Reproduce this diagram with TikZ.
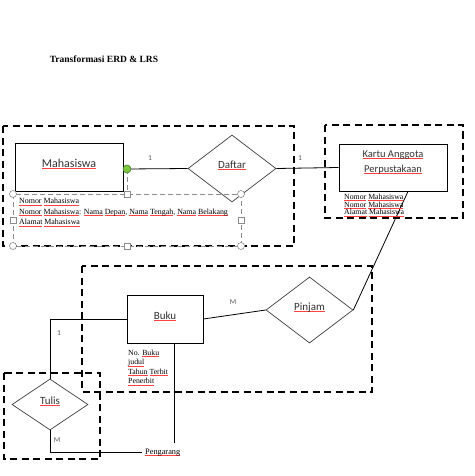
\documentclass[tikz,border=0pt]{standalone}
\usepackage{fontspec}
\setmainfont{Liberation Serif}
\newfontfamily\calib{Carlito}
\usetikzlibrary{shapes.geometric,calc}
\newcommand\ru[1]{\setbox0\hbox{#1}\rlap{\textcolor{red!75}{\rule[-1.3pt]{\wd0}{0.35pt}}}\box0\relax}
\tikzset{
  ent/.style={draw=black, line width=0.8pt, rectangle, inner sep=0pt,
    font=\calib\fontsize{11}{13}\selectfont, text=black!80, text height=0pt, text depth=0pt},
  rel/.style={diamond, draw=black!75, line width=0.7pt, inner sep=0pt,
    font=\calib\fontsize{11}{13}\selectfont, text=black!80, text height=0pt, text depth=0pt},
  conn/.style={draw=black, line width=0.8pt},
  card/.style={font=\calib\fontsize{7.5}{8}\selectfont, text=black!65, inner sep=0pt},
  attr/.style={font=\fontsize{7.9}{10.5}\selectfont, align=left, inner sep=0pt, anchor=north west},
  grp/.style={draw=black, line width=2.2pt, dash pattern=on 7pt off 4.5pt},
  selfr/.style={draw=black!45, line width=0.6pt, dash pattern=on 5pt off 3pt},
  hc/.style={circle, draw=black!45, fill=white, line width=0.6pt, minimum size=7pt, inner sep=0pt},
  hs/.style={rectangle, draw=black!45, fill=white, line width=0.6pt, minimum size=6pt, inner sep=0pt},
  gdot/.style={circle, draw={rgb,255:red,70;green,125;blue,40}, fill={rgb,255:red,125;green,200;blue,65}, line width=0.6pt, minimum size=8pt, inner sep=0pt}
}
\begin{document}
\begin{tikzpicture}[x=1pt,y=-1pt]
\useasboundingbox (0,0) rectangle (474,476);
\fill[white] (0,0) rectangle (474,476);

\node[inner sep=0pt, font=\bfseries\fontsize{9.5}{11}\selectfont] (ttl) at (104,59) {Transformasi ERD \& LRS};

% group boxes
\draw[grp] (3,126) rectangle (294,246);
\draw[grp] (325,125) rectangle (463,218);
\draw[grp] (82,266) rectangle (372,392);
\draw[grp] (4,373) rectangle (100,459);

% entities and relations
\node[ent, minimum width=108pt, minimum height=48pt, font=\calib\fontsize{12}{14}\selectfont] (mhs) at (69,167) {\ru{Mahasiswa}};
\node[rel, minimum width=88pt, minimum height=67pt] (daftar) at (232,168.5) {\ru{Daftar}};
\node[ent, minimum width=108pt, minimum height=47pt] (kartu) at (393,167.5) {};
\node[inner sep=0pt, align=center, font=\calib\fontsize{10.5}{15}\selectfont, text=black!80] (kartut) at (393,162.5) {\ru{Kartu Anggota}\\\ru{Perpustakaan}};
\node[ent, minimum width=76pt, minimum height=48pt] (buku) at (165,319) {\ru{Buku}};
\node[rel, minimum width=87pt, minimum height=66pt] (pinjam) at (309.5,310) {\ru{Pinjam}};
\node[rel, minimum width=76pt, minimum height=51pt] (tulis) at (50,404.5) {\ru{Tulis}};
\node[inner sep=0pt, anchor=west, font=\fontsize{8.3}{10}\selectfont] (peng) at (145,452.5) {\ru{Pengarang}};

% connectors
\coordinate (gd) at (127,169);
\coordinate (bb) at (174,443);
\draw[conn] (gd) -- (daftar.west);
\draw[conn] (daftar.east) -- (kartu.west);
\draw[conn] ([xshift=15pt]kartu.south) -- (pinjam.east);
\draw[conn] (buku.east) -- (pinjam.west);
\draw[conn] (buku.west) -| (tulis.north);
\draw[conn] (tulis.south) |- ([xshift=-3pt]peng.west);
\draw[conn] (bb |- buku.south) -- (bb);

% cardinalities
\node[card] (c1) at (150,158) {1};
\node[card] (c2) at (300,158) {1};
\node[card] (c3) at (233,302) {M};
\node[card] (c4) at (59,333) {1};
\node[card] (c5) at (57,440) {M};

% attributes
\node[attr] (amhs) at (19,198) {\ru{Nomor} \ru{Mahasiswa}\\\ru{Nomor} \ru{Mahasiswa}: \ru{Nama} \ru{Depan}, \ru{Nama} \ru{Tengah}, \ru{Nama} \ru{Belakang}\\\ru{Alamat} \ru{Mahasiswa}};
\node[attr, font=\fontsize{7.8}{7.9}\selectfont] (akartu) at (344,193.5) {\ru{Nomor} \ru{Mahasiswa}\\\ru{Nomor} \ru{Mahasiswa}\\\ru{Alamat} \ru{Mahasiswa}};
\node[attr, font=\fontsize{7.8}{9.6}\selectfont] (abuku) at (128,349.5) {No. \ru{Buku}\\\ru{judul}\\\ru{Tahun} \ru{Terbit}\\\ru{Penerbit}};

% selection frame with handles
\draw[selfr] (13,194) rectangle (241,246);
\draw[selfr] (gd) -- (127,191);
\node[hc] (h1) at (13,194) {};
\node[hc] (h2) at (241,194) {};
\node[hc] (h3) at (13,246) {};
\node[hc] (h4) at (241,246) {};
\node[hs] (h5) at (127,194) {};
\node[hs] (h6) at (127,246) {};
\node[hs] (h7) at (13,220) {};
\node[hs] (h8) at (241,220) {};
\node[gdot] (gdn) at (gd) {};
\end{tikzpicture}
\end{document}
